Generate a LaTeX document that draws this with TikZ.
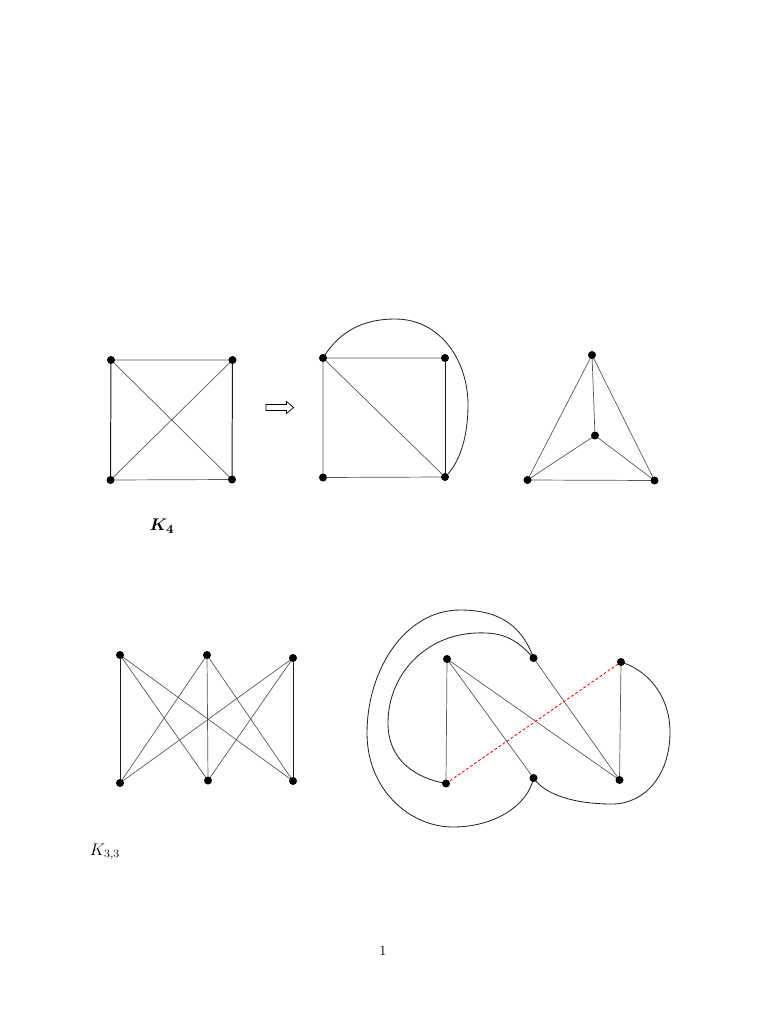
\documentclass[tikz,border=0pt]{standalone}
\usepackage{bm}
\begin{document}
\begin{tikzpicture}[x=0.25mm,y=-0.25mm,
  edge/.style={color=black!65,line width=0.5pt},
  darkedge/.style={color=black!90,line width=0.7pt},
  curve/.style={color=black!85,line width=0.6pt},
  redline/.style={color=red,line width=0.6pt,dash pattern=on 2pt off 1.5pt},
  lbl/.style={inner sep=0pt}]
\useasboundingbox (0,0) rectangle (768,1024);
\coordinate (A1) at (111,360);
\coordinate (A2) at (232.5,360);
\coordinate (A3) at (110.5,480);
\coordinate (A4) at (232,479.5);
\coordinate (B1) at (323,358);
\coordinate (B2) at (445,358);
\coordinate (B3) at (323,477.5);
\coordinate (B4) at (445,477);
\coordinate (T1) at (592,355);
\coordinate (T2) at (595,435.5);
\coordinate (T3) at (527.5,480);
\coordinate (T4) at (654.5,480.5);
\coordinate (U1) at (120,655);
\coordinate (U2) at (207,655);
\coordinate (U3) at (293,658);
\coordinate (V1) at (120,783);
\coordinate (V2) at (208,780.5);
\coordinate (V3) at (293,781);
\coordinate (P1) at (447,659);
\coordinate (P2) at (533.5,658);
\coordinate (P3) at (621,662);
\coordinate (Q1) at (446,783.5);
\coordinate (Q2) at (533.5,778);
\coordinate (Q3) at (619.5,780);
\draw[edge] (A1)--(A2) (A3)--(A4) (A1)--(A4) (A2)--(A3);
\draw[darkedge] (A1)--(A3) (A2)--(A4);
\draw[edge] (B1)--(B2) (B3)--(B4) (B1)--(B3) (B1)--(B4);
\draw[darkedge] (B2)--(B4);
\draw[curve] (B1) .. controls (340,330) and (365,319) .. (395,319)
  .. controls (440,319) and (468,360) .. (468,405)
  .. controls (468,440) and (458,465) .. (B4);
\draw[line width=0.5pt] (266,404.5)--(286.5,404.5)--(286.5,401.5)--(293.5,407.5)--(286.5,413.5)--(286.5,410.5)--(266,410.5)--cycle;
\draw[edge] (T1)--(T2) (T1)--(T3) (T1)--(T4) (T2)--(T3) (T2)--(T4) (T3)--(T4);
\foreach \u in {U1,U2,U3}{
\foreach \v in {V1,V2,V3}{
\draw[edge] (\u)--(\v);
}
}
\draw[darkedge] (U1)--(V1) (U3)--(V3);
\draw[edge] (P1)--(Q1) (P1)--(Q2) (P1)--(Q3) (P2)--(Q3) (P3)--(Q3);
\draw[redline] (Q1)--(P3);
\draw[curve] (P2) .. controls (515,637) and (500,632) .. (476,633)
  .. controls (425,635) and (388,675) .. (388,723)
  .. controls (388,760) and (415,778) .. (Q1);
\draw[curve] (P2) .. controls (520,620) and (492,610) .. (460,610)
  .. controls (405,610) and (367,670) .. (367,733)
  .. controls (367,790) and (410,827) .. (453,827)
  .. controls (495,827) and (528,805) .. (Q2);
\draw[curve] (P3) .. controls (652,672) and (670,700) .. (670,732)
  .. controls (670,775) and (645,804) .. (612,804)
  .. controls (575,804) and (545,795) .. (Q2);
\foreach \p in {A1,A2,A3,A4,B1,B2,B3,B4,T1,T2,T3,T4,U1,U2,U3,V1,V2,V3,P1,P2,P3,Q1,Q2,Q3}{
\fill (\p) circle[radius=4];
}
\node[lbl] (k4) at (162,526) {\fontsize{12.5}{14}\selectfont $\bm{K_4}$};
\node[lbl] (k33) at (105,852) {\fontsize{11.5}{13}\selectfont $K_{3,3}$};
\node[lbl] (page) at (383,951) {\fontsize{10}{12}\selectfont 1};
\end{tikzpicture}
\end{document}
